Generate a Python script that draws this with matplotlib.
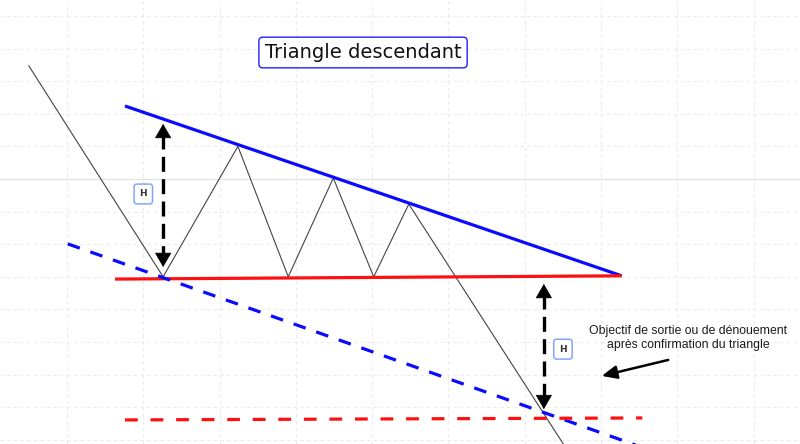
import matplotlib.pyplot as plt
from matplotlib.patches import FancyArrowPatch

# coordinates in grid units (one grid cell = 1 unit)
zig_x = [-0.5, 1.26, 2.24, 2.9, 3.49, 4.02, 4.48, 6.64]
zig_y = [3.47, -3.0, 1.0, -3.0, 0.03, -3.0, -0.77, -8.62]

resist_x = [0.76, 7.27]
resist_y = [2.24, -2.97]
support_x = [0.63, 7.27]
support_y = [-3.07, -2.97]

resist_proj_x = [0.01, 7.5]
resist_proj_y = [-1.99, -8.2]
target_x = [0.76, 7.54]
target_y = [-7.39, -7.33]

h1_x = 1.26
h1_y = [1.69, -2.70]
h2_x = 6.25
h2_y = [-3.22, -7.06]
h_label_x = [1.0, 6.5]
h_label_y = [-0.46, -5.22]

title = "Triangle descendant"
note = "Objectif de sortie ou de dénouement\naprès confirmation du triangle"

fig = plt.figure(figsize=(8, 4.44), dpi=100)
ax = fig.add_axes([0, 0, 1, 1])
ax.set_xlim(-0.878, 9.607)
ax.set_ylim(-8.129, 5.491)

# background grid
for gx in range(0, 10):
    ax.axvline(gx, color='#ebebeb', lw=0.8, ls=(0, (3, 3)), zorder=0)
for gy in range(-8, 6):
    if gy == 0:
        ax.axhline(gy, color='#e2e2e2', lw=0.9, zorder=0)
    else:
        ax.axhline(gy, color='#ebebeb', lw=0.8, ls=(0, (3, 3)), zorder=0)
ax.axis('off')

ax.plot(zig_x, zig_y, color='#444444', lw=0.8, zorder=2)
ax.plot(resist_x, resist_y, color='#0a0aff', lw=2.3, zorder=3, solid_capstyle='butt')
ax.plot(support_x, support_y, color='#ff1010', lw=2.3, zorder=3, solid_capstyle='butt')
ax.plot(resist_proj_x, resist_proj_y, color='#0a0aff', lw=2.3, dashes=(4, 3.5), zorder=3)
ax.plot(target_x, target_y, color='#ff1010', lw=2.3, dashes=(4, 4), zorder=3)


def height_arrow(x, ys):
    top, bottom = ys
    head = 0.3
    ax.plot([x, x], [top - head, bottom + head], color='black', lw=2.4,
            dashes=(4.5, 2.2), zorder=4)
    for tip, base in ((top, top - head * 1.3), (bottom, bottom + head * 1.3)):
        ax.add_patch(FancyArrowPatch((x, base), (x, tip),
                                     arrowstyle='-|>,head_length=0.95,head_width=0.55',
                                     mutation_scale=10, color='black', lw=0.5,
                                     shrinkA=0, shrinkB=0, zorder=5))


height_arrow(h1_x, h1_y)
height_arrow(h2_x, h2_y)

for hx, hy in zip(h_label_x, h_label_y):
    ax.text(hx, hy, 'H', fontsize=6.5, fontweight='bold', ha='center', va='center',
            color='#333333',
            bbox=dict(boxstyle='round,pad=0.6,rounding_size=0.3', fc='white',
                      ec='#7fa6ff', lw=1.1), zorder=6)

ax.text(3.88, 3.88, title, fontsize=14, ha='center', va='center', color='#111111',
        family='DejaVu Sans',
        bbox=dict(boxstyle='round,pad=0.3,rounding_size=0.2', fc='white',
                  ec='#2020ff', lw=1.0), zorder=6)

ax.text(8.14, -4.88, note, fontsize=8.8, ha='center', va='center', color='#1a1a1a',
        family='Liberation Sans', linespacing=1.25, zorder=6)
ax.annotate('', xy=(7.01, -6.04), xytext=(7.88, -5.55),
            arrowprops=dict(arrowstyle='-|>,head_length=0.9,head_width=0.4',
                            mutation_scale=10, color='black', lw=1.8,
                            shrinkA=0, shrinkB=0), zorder=6)

fig.savefig('out.png', dpi=100)
